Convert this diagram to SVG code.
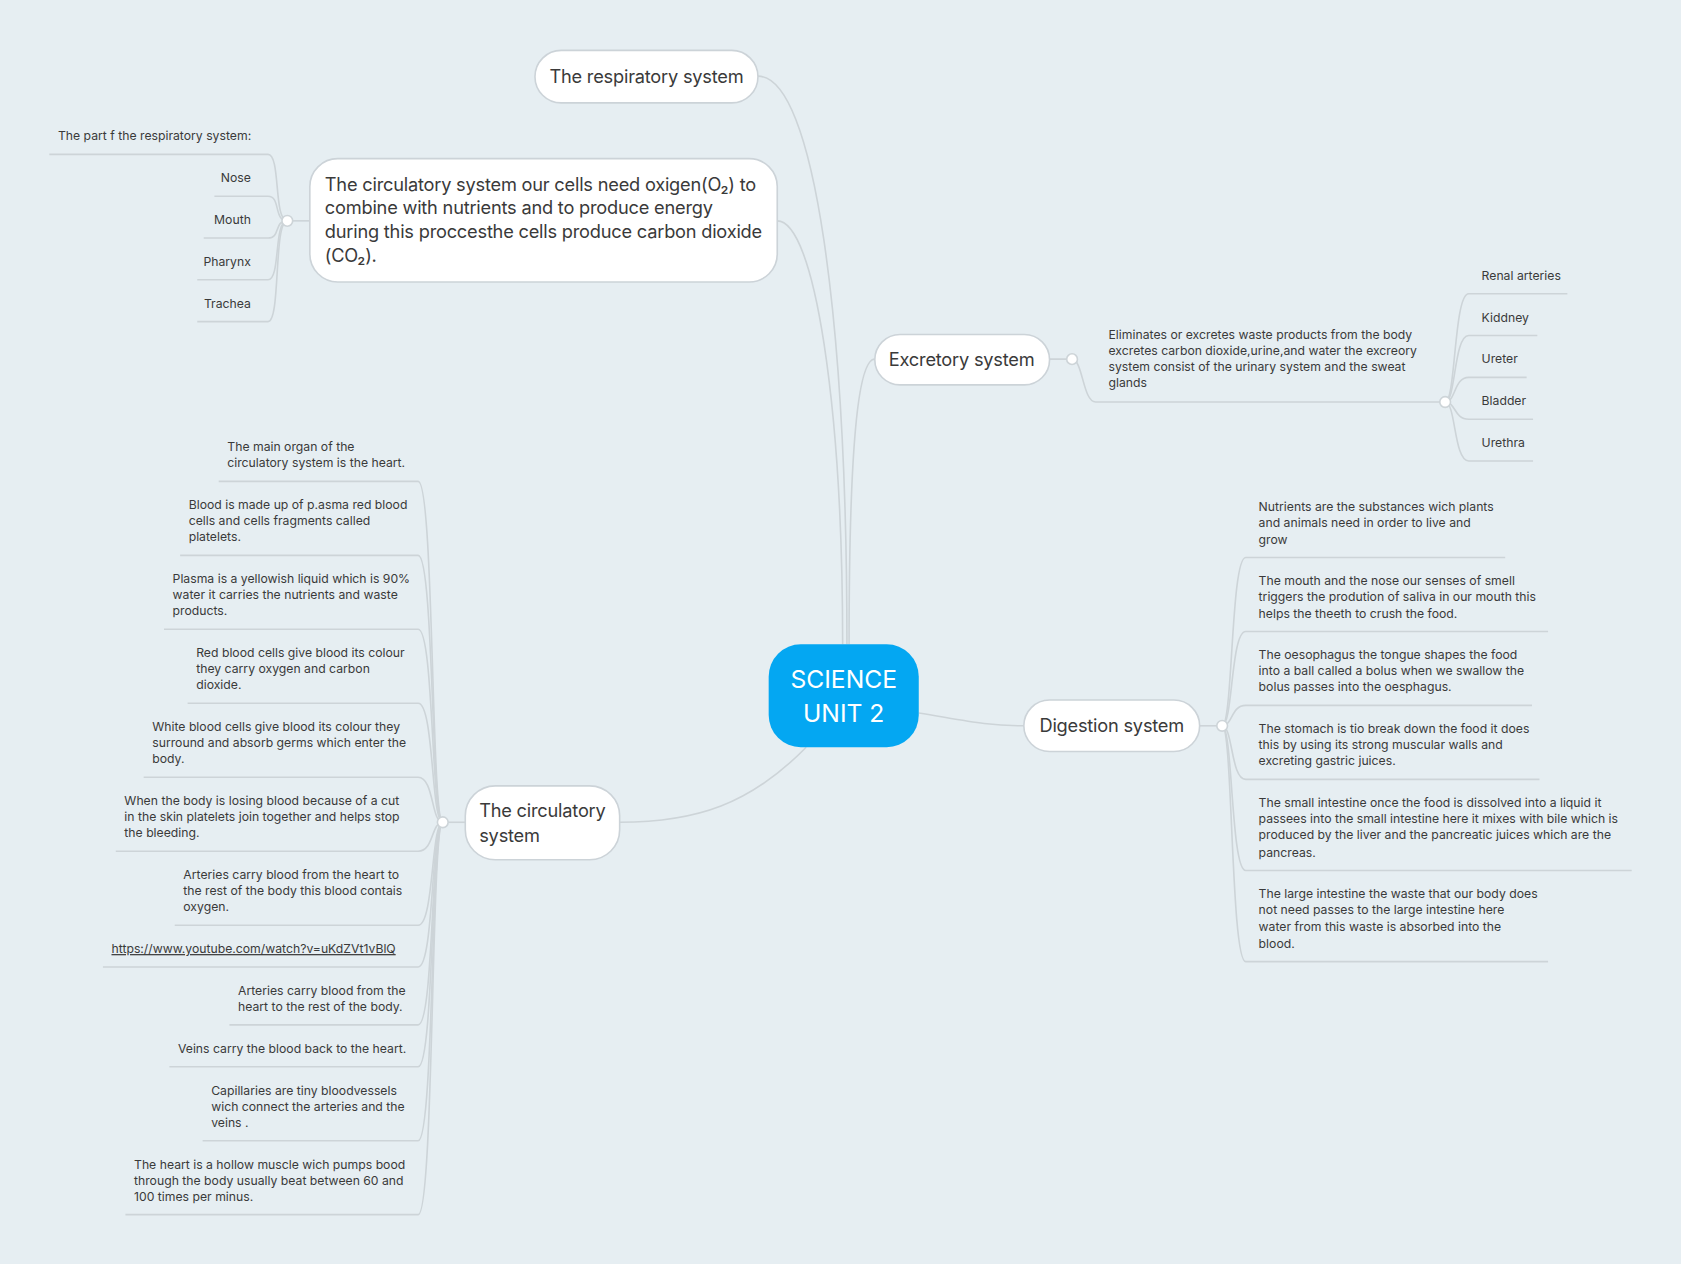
<svg xmlns="http://www.w3.org/2000/svg" width="1681" height="1264" viewBox="0 0 1681 1264">
<style>
.bg{fill:#e6eef2}
.n{fill:#fff;stroke:#ccd3d8;stroke-width:1.5}
.t{font-family:Inter,"Open Sans",sans-serif;fill:#3a3a3a}
.s{font-size:11.4px}
.m{font-size:17px;letter-spacing:-0.2px}
.c{fill:none;stroke:#cdd4d8;stroke-width:1.5}
.j{fill:#fff;stroke:#cdd4d8;stroke-width:1.5}
</style>
<rect class="bg" width="1681" height="1264"/>
<g transform="scale(1.07207)">
<g id="connectors">
<path class="c" d="M790 601 C790 300 760 71 707 71"/>
<path class="c" d="M786 601 C786 380 760 206 725 206"/>
<path class="c" d="M792 601 C792 420 800 335 816 335"/>
<path class="c" d="M857 665 C900 672 920 677 955 677"/>
<path class="c" d="M752 697 C700 750 650 767 578 767"/>
<path class="c" d="M289 206 L268 206"/>
<path class="c" d="M268 206 C255 206 262 144 250 144 L46 144"/>
<path class="c" d="M268 206 C255 206 262 183 250 183 L200 183"/>
<path class="c" d="M268 206 C255 206 262 222 250 222 L190 222"/>
<path class="c" d="M268 206 C255 206 262 261 250 261 L184 261"/>
<path class="c" d="M268 206 C255 206 262 300 250 300 L184 300"/>
<path class="c" d="M979 335 L1000 335 C1010 335 1010 375 1022 375 L1348 375"/>
<path class="c" d="M1348 375 C1358 375 1356 274 1370 274 L1462 274"/>
<path class="c" d="M1348 375 C1358 375 1356 313 1370 313 L1434 313"/>
<path class="c" d="M1348 375 C1358 375 1356 352 1370 352 L1424 352"/>
<path class="c" d="M1348 375 C1358 375 1356 391 1370 391 L1430 391"/>
<path class="c" d="M1348 375 C1358 375 1356 430 1370 430 L1430 430"/>
<path class="c" d="M1119 677 L1140 677"/>
<path class="c" d="M1140 677 C1150 677 1148 520 1162 520 L1404 520"/>
<path class="c" d="M1140 677 C1150 677 1148 589 1162 589 L1444 589"/>
<path class="c" d="M1140 677 C1150 677 1148 658 1162 658 L1429 658"/>
<path class="c" d="M1140 677 C1150 677 1148 727 1162 727 L1436 727"/>
<path class="c" d="M1140 677 C1150 677 1148 812 1162 812 L1522 812"/>
<path class="c" d="M1140 677 C1150 677 1148 897 1162 897 L1444 897"/>
<path class="c" d="M434 767 L413 767"/>
<path class="c" d="M413 767 C402 767 405 449 390 449 L204 449"/>
<path class="c" d="M413 767 C402 767 405 518 390 518 L168 518"/>
<path class="c" d="M413 767 C402 767 405 587 390 587 L153 587"/>
<path class="c" d="M413 767 C402 767 405 656 390 656 L175 656"/>
<path class="c" d="M413 767 C402 767 405 725 390 725 L134 725"/>
<path class="c" d="M413 767 C402 767 405 794 390 794 L108 794"/>
<path class="c" d="M413 767 C402 767 405 863 390 863 L163 863"/>
<path class="c" d="M413 767 C402 767 405 902 390 902 L96 902"/>
<path class="c" d="M413 767 C402 767 405 956 390 956 L214 956"/>
<path class="c" d="M413 767 C402 767 405 995 390 995 L158 995"/>
<path class="c" d="M413 767 C402 767 405 1064 390 1064 L189 1064"/>
<path class="c" d="M413 767 C402 767 405 1133 390 1133 L117 1133"/>
<circle class="j" cx="268" cy="206" r="5"/>
<circle class="j" cx="1000" cy="335" r="5"/>
<circle class="j" cx="1348" cy="375" r="5"/>
<circle class="j" cx="1140" cy="677" r="5"/>
<circle class="j" cx="413" cy="767" r="5"/>
</g>
<g id="center">
<rect x="717" y="601" width="140" height="96" rx="30" fill="#04a7f2"/>
<text class="t" x="787" y="642" text-anchor="middle" font-size="23" style="fill:#fff">SCIENCE</text>
<text class="t" x="787" y="673" text-anchor="middle" font-size="23" style="fill:#fff">UNIT 2</text>
</g>
<g id="respiratory">
<rect class="n" x="499" y="47" width="208" height="49" rx="24.5"/>
<text class="t m" x="603" y="77" text-anchor="middle">The respiratory system</text>
</g>
<g id="circbig">
<rect class="n" x="289" y="148" width="436" height="115" rx="26"/>
<text class="t m" x="303" y="178">The circulatory system our cells need oxigen(O₂) to</text>
<text class="t m" x="303" y="200">combine with nutrients and to produce energy</text>
<text class="t m" x="303" y="222">during this proccesthe cells produce carbon dioxide</text>
<text class="t m" x="303" y="244">(CO₂).</text>
</g>
<g id="resp-parts" class="t s">
<text x="54" y="131">The part f the respiratory system:</text>
<text x="234" y="170" text-anchor="end">Nose</text>
<text x="234" y="209" text-anchor="end">Mouth</text>
<text x="234" y="248" text-anchor="end">Pharynx</text>
<text x="234" y="287" text-anchor="end">Trachea</text>
</g>
<g id="excretory">
<rect class="n" x="816" y="312" width="163" height="47" rx="23.5"/>
<text class="t m" x="897" y="341" text-anchor="middle">Excretory system</text>
</g>
<g id="excr-children" class="t s">
<text x="1034" y="316">Eliminates or excretes waste products from the body</text>
<text x="1034" y="331">excretes carbon dioxide,urine,and water the excreory</text>
<text x="1034" y="346">system consist of the urinary system and the sweat</text>
<text x="1034" y="361">glands</text>
<text x="1382" y="261">Renal arteries</text>
<text x="1382" y="300">Kiddney</text>
<text x="1382" y="339">Ureter</text>
<text x="1382" y="378">Bladder</text>
<text x="1382" y="417">Urethra</text>
</g>
<g id="digestion">
<rect class="n" x="955" y="653" width="164" height="48" rx="24"/>
<text class="t m" x="1037" y="683" text-anchor="middle">Digestion system</text>
</g>
<g id="dig-children" class="t s">
<text x="1174" y="477">Nutrients are the substances wich plants</text>
<text x="1174" y="492">and animals need in order to live and</text>
<text x="1174" y="507">grow</text>
<text x="1174" y="546">The mouth and the nose our senses of smell</text>
<text x="1174" y="561">triggers the prodution of saliva in our mouth this</text>
<text x="1174" y="576">helps the theeth to crush the food.</text>
<text x="1174" y="615">The oesophagus the tongue shapes the food</text>
<text x="1174" y="630">into a ball called a bolus when we swallow the</text>
<text x="1174" y="645">bolus passes into the oesphagus.</text>
<text x="1174" y="684">The stomach is tio break down the food it does</text>
<text x="1174" y="699">this by using its strong muscular walls and</text>
<text x="1174" y="714">excreting gastric juices.</text>
<text x="1174" y="753">The small intestine once the food is dissolved into a liquid it</text>
<text x="1174" y="768">passees into the small intestine  here it mixes with bile which is</text>
<text x="1174" y="783">produced by the liver and the pancreatic juices which are the</text>
<text x="1174" y="799">pancreas.</text>
<text x="1174" y="838">The large intestine the waste that our body does</text>
<text x="1174" y="853">not need passes to the large intestine here</text>
<text x="1174" y="868">water from this waste is absorbed into the</text>
<text x="1174" y="884">blood.</text>
</g>
<g id="circulatory">
<rect class="n" x="434" y="733" width="144" height="69" rx="28"/>
<text class="t m" x="447" y="762">The circulatory</text>
<text class="t m" x="447" y="785">system</text>
</g>
<g id="circ-children" class="t s">
<text x="212" y="421">The main organ of the</text>
<text x="212" y="436">circulatory system is the heart.</text>
<text x="176" y="475">Blood is made up of p.asma red blood</text>
<text x="176" y="490">cells and cells fragments called</text>
<text x="176" y="505">platelets.</text>
<text x="161" y="544">Plasma is a yellowish liquid which is 90%</text>
<text x="161" y="559">water it carries the nutrients and waste</text>
<text x="161" y="574">products.</text>
<text x="183" y="613">Red blood cells give blood its colour</text>
<text x="183" y="628">they carry oxygen and carbon</text>
<text x="183" y="643">dioxide.</text>
<text x="142" y="682">White blood cells give blood its colour they</text>
<text x="142" y="697">surround and absorb germs which enter the</text>
<text x="142" y="712">body.</text>
<text x="116" y="751">When the body is losing blood because of a cut</text>
<text x="116" y="766">in  the skin platelets join together and helps stop</text>
<text x="116" y="781">the bleeding.</text>
<text x="171" y="820">Arteries carry blood from the heart to</text>
<text x="171" y="835">the rest of the body this blood contais</text>
<text x="171" y="850">oxygen.</text>
<text x="104" y="889" text-decoration="underline">https://www.youtube.com/watch?v=uKdZVt1vBlQ</text>
<text x="222" y="928">Arteries carry blood from the</text>
<text x="222" y="943">heart to the rest of the body.</text>
<text x="166" y="982">Veins carry the blood back to the heart.</text>
<text x="197" y="1021">Capillaries are tiny bloodvessels</text>
<text x="197" y="1036">wich connect the arteries and the</text>
<text x="197" y="1051">veins .</text>
<text x="125" y="1090">The heart is a hollow muscle wich pumps bood</text>
<text x="125" y="1105">through the body usually beat between 60 and</text>
<text x="125" y="1120">100 times per minus.</text>
</g>
</g>
</svg>
